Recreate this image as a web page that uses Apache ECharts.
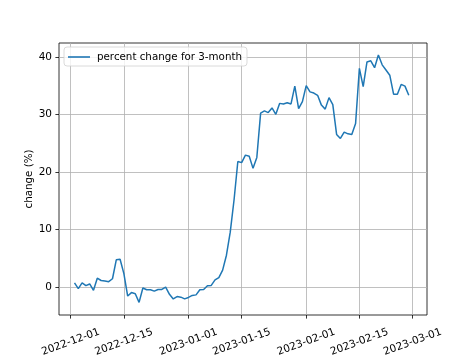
<!DOCTYPE html>
<html>
<head>
<meta charset="utf-8">
<script src="https://cdn.jsdelivr.net/npm/echarts@6/dist/echarts.min.js"></script>
<style>
html,body{margin:0;padding:0;background:#fff;}
#chart{width:474px;height:355px;}
</style>
</head>
<body>
<div id="chart"></div>
<script>
// Daily observations starting 2022-12-02
const startDate = [2022, 11, 2]; // year, monthIndex, day
const values = [
  0.7, -0.3, 0.7, 0.2, 0.5, -0.6, 1.5, 1.1, 1.0, 0.9,
  1.4, 4.7, 4.8, 2.3, -1.6, -1.0, -1.2, -2.7, -0.2, -0.5,
  -0.5, -0.75, -0.46, -0.46, -0.05, -1.3, -2.1, -1.7, -1.8, -2.1,
  -1.85, -1.5, -1.4, -0.5, -0.46, 0.2, 0.24, 1.2, 1.6, 2.9,
  5.5, 9.5, 15.1, 21.8, 21.6, 22.9, 22.7, 20.6, 22.5, 30.2,
  30.6, 30.3, 31.1, 30.0, 31.9, 31.8, 32.0, 31.8, 34.9, 31.0,
  32.2, 35.0, 33.9, 33.7, 33.3, 31.6, 30.9, 32.9, 31.7, 26.5,
  25.8, 26.9, 26.6, 26.5, 28.4, 38.0, 34.8, 39.1, 39.3, 38.1,
  40.3, 38.6, 37.7, 36.8, 33.5, 33.5, 35.2, 34.9, 33.3
];
const xTickLabels = ['2022-12-01','2022-12-15','2023-01-01','2023-01-15','2023-02-01','2023-02-15','2023-03-01'];
const yTickValues = [0, 10, 20, 30, 40];
const seriesName = 'percent change for 3-month';
const yAxisName = 'change (%)';

function parseDay(s) {
  const p = s.split('-').map(Number);
  return new Date(p[0], p[1] - 1, p[2]).getTime();
}
function fmt(ts) {
  const d = new Date(Math.round(ts));
  const mm = String(d.getMonth() + 1).padStart(2, '0');
  const dd = String(d.getDate()).padStart(2, '0');
  return d.getFullYear() + '-' + mm + '-' + dd;
}
const DAY = 86400000;
const data = values.map((v, i) => [new Date(startDate[0], startDate[1], startDate[2] + i).getTime(), v]);
const xTicks = xTickLabels.map(parseDay);
const xMin = parseDay('2022-12-01') - 3.08 * DAY;
const xMax = parseDay('2023-03-01') + 3.8 * DAY;

const chart = echarts.init(document.getElementById('chart'), null, {renderer: 'canvas'});
chart.setOption({
  animation: false,
  backgroundColor: '#fff',
  textStyle: {fontFamily: 'DejaVu Sans', fontSize: 10.3, color: '#000'},
  grid: {
    left: 59, right: 47, top: 43, bottom: 40,
    show: true, borderColor: '#000', borderWidth: 0.8,
    backgroundColor: 'transparent',
    containLabel: false, outerBoundsMode: 'none'
  },
  legend: {
    left: 64, top: 47,
    orient: 'horizontal',
    padding: [5, 5, 4, 4],
    itemWidth: 22, itemHeight: 1.6, itemGap: 5,
    icon: 'rect',
    borderColor: '#d0d0d0', borderWidth: 0.8, borderRadius: 3,
    backgroundColor: 'rgba(255,255,255,0.8)',
    textStyle: {fontFamily: 'DejaVu Sans', fontSize: 10.3, color: '#000', padding: [0, 0, 0, 2]},
    data: [seriesName]
  },
  xAxis: {
    type: 'value',
    min: xMin, max: xMax,
    axisLine: {show: false, onZero: false},
    axisTick: {show: true, length: 3.6, inside: false, customValues: xTicks, lineStyle: {color: '#000', width: 0.8}},
    splitLine: {show: true, lineStyle: {color: '#b0b0b0', width: 0.8}},
    axisLabel: {
      customValues: xTicks,
      formatter: function (v) { return fmt(v); },
      rotate: 20, align: 'center', verticalAlign: 'middle',
      margin: 27,
      fontFamily: 'DejaVu Sans', fontSize: 10.5, color: '#000',
      hideOverlap: false
    }
  },
  yAxis: {
    type: 'value',
    min: -4.9, max: 42.4,
    name: yAxisName,
    nameLocation: 'middle',
    nameGap: 25,
    nameRotate: 90,
    nameMoveOverlap: false,
    nameTextStyle: {fontFamily: 'DejaVu Sans', fontSize: 10.3, color: '#000'},
    axisLine: {show: false, onZero: false},
    axisTick: {show: true, length: 3.6, inside: false, customValues: yTickValues, lineStyle: {color: '#000', width: 0.8}},
    splitLine: {show: true, lineStyle: {color: '#b0b0b0', width: 0.8}},
    axisLabel: {
      customValues: yTickValues,
      margin: 7,
      fontFamily: 'DejaVu Sans', fontSize: 10.5, color: '#000'
    }
  },
  series: [{
    name: seriesName,
    type: 'line',
    data: data,
    showSymbol: false,
    symbol: 'none',
    color: '#1f77b4',
    lineStyle: {color: '#1f77b4', width: 1.5},
    clip: true
  }]
});
</script>
</body>
</html>
